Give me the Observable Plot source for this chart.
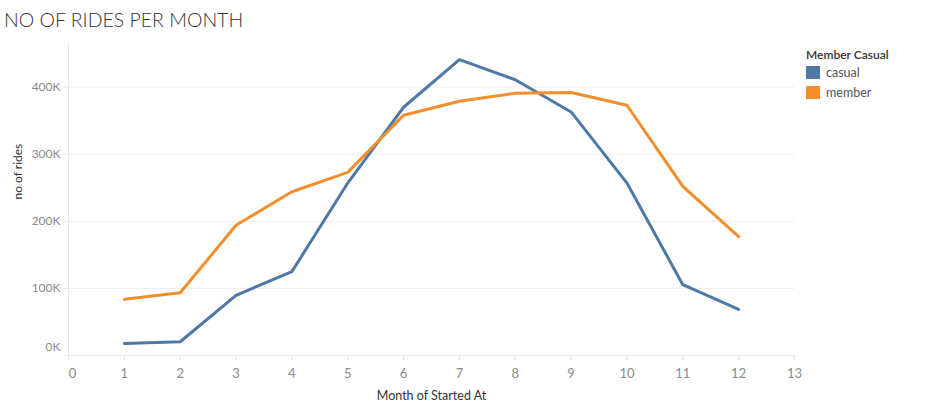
<!DOCTYPE html>
<html><head><meta charset="utf-8">
<script src="https://cdn.jsdelivr.net/npm/d3@7"></script>
<script src="https://cdn.jsdelivr.net/npm/@observablehq/plot@0.6"></script>
<style>
body{margin:0;background:#fff;font-family:Lato,"Open Sans",sans-serif;}
#wrap{position:relative;width:944px;height:412px;overflow:hidden;}
#chart{position:absolute;left:0;top:0;}
#title{position:absolute;left:4px;top:8px;font-size:19.5px;font-weight:300;color:#333;white-space:nowrap;}
#legend{position:absolute;left:806px;top:47px;font-size:12px;color:#333;}
#legend .lt{font-weight:600;margin-bottom:0px;}
#legend .it{display:flex;align-items:center;height:20px;color:#555;font-size:12.5px;}
#legend .sw{width:14px;height:13px;margin-right:6px;}
</style>
</head><body>
<div id="wrap">
  <div id="chart"></div>
  <div id="title">NO OF RIDES PER MONTH</div>
  <div id="legend"></div>
</div>
<script>
const months = [1,2,3,4,5,6,7,8,9,10,11,12];
const casual = [18000, 20500, 89600, 125000, 257000, 370000, 441000, 411000, 363000, 257000, 105500, 68700];
const member = [84000, 93600, 194000, 244000, 273000, 358000, 379000, 391000, 392000, 373000, 252000, 177000];
const seriesNames = ["casual", "member"];
const seriesColors = ["#4e79a7", "#f28e2b"];
const xTicks = [0,1,2,3,4,5,6,7,8,9,10,11,12,13];
const yTicks = [0, 100000, 200000, 300000, 400000];

const rows = [];
months.forEach((m, i) => {
  rows.push({month: m, rides: casual[i], type: "casual"});
  rows.push({month: m, rides: member[i], type: "member"});
});

const fmt = d => (d / 1000) + "K";
const tickColor = "#8a8a8a";

const chart = Plot.plot({
  width: 944,
  height: 412,
  marginTop: 43,
  marginBottom: 57,
  marginLeft: 68,
  marginRight: 150,
  style: {fontFamily: "Lato, 'Open Sans', sans-serif", fontSize: "12px", background: "#fff"},
  x: {domain: [0, 13]},
  y: {domain: [0, 465000]},
  color: {domain: seriesNames, range: seriesColors},
  marks: [
    Plot.gridY(yTicks.filter(v => v > 0), {stroke: "#ededed", strokeOpacity: 1}),
    Plot.ruleX([0], {stroke: "#e8e8e8", insetBottom: -5}),
    Plot.ruleY([0], {stroke: "#e8e8e8", insetLeft: -5}),
    Plot.axisX(xTicks.filter(v => v > 0), {tickSize: 5, tickPadding: 8, stroke: "#e3e3e3", fill: tickColor, label: null, fontSize: 13}),
    Plot.axisX([0], {tickSize: 0, tickPadding: 13, dx: 4, fill: tickColor, label: null, fontSize: 13}),
    Plot.axisY(yTicks.filter(v => v > 0), {tickSize: 5, tickPadding: 3, stroke: "#e3e3e3", fill: tickColor, tickFormat: fmt, label: null}),
    Plot.axisY([0], {tickSize: 0, tickPadding: 8, dy: -8, fill: tickColor, tickFormat: fmt, label: null}),
    Plot.text(["Month of Started At"], {frameAnchor: "bottom", dy: 44, fill: "#333", fontSize: 12.5}),
    Plot.text(["no of rides"], {frameAnchor: "left", rotate: -90, dx: -50, fill: "#333", fontSize: 12}),
    Plot.line(rows, {x: "month", y: "rides", z: "type", stroke: "type", strokeWidth: 3})
  ]
});
document.getElementById("chart").appendChild(chart);

const lg = document.getElementById("legend");
lg.innerHTML = '<div class="lt">Member Casual</div>' + seriesNames.map((n, i) =>
  `<div class="it"><span class="sw" style="background:${seriesColors[i]}"></span>${n}</div>`).join("");
</script>
</body></html>
